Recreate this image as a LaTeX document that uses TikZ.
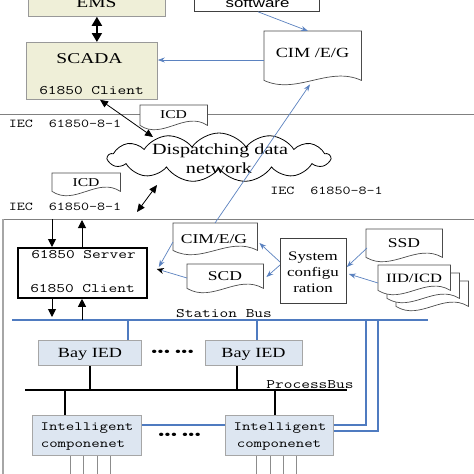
\documentclass[tikz,border=0pt]{standalone}
\usepackage{fontspec}
\setmainfont{Liberation Serif}
\newfontfamily\sansf{Liberation Sans}
\usetikzlibrary{shapes.symbols,arrows.meta,calc}
\newcommand\sx[1]{\scalebox{1.3}[1]{#1}}
\newcommand\fs[1]{\fontsize{#1}{#1}\selectfont}
\definecolor{busblue}{HTML}{4F7BC0}
\definecolor{arrblue}{HTML}{5B82C0}
\definecolor{ivory}{HTML}{EFEFD8}
\definecolor{bayfill}{HTML}{DDE6F1}
\newcommand\mydoc[1]{%
  \draw[docline] (#1.south west) -- (#1.north west) -- (#1.north east) -- (#1.south east)
    .. controls ($(#1.south west)!0.667!(#1.south east)+(0,-15)$) and ($(#1.south west)!0.333!(#1.south east)+(0,15)$) .. (#1.south west) -- cycle;}
\begin{document}
\begin{tikzpicture}[x=1pt,y=-1pt,
  ivbox/.style={draw=black!40, fill=ivory, line width=0.8pt, inner sep=0, anchor=north west},
  blbox/.style={draw=black!35, fill=bayfill, line width=0.8pt, inner sep=0, anchor=north west},
  wbox/.style={draw=black!75, fill=white, line width=0.8pt, inner sep=0, anchor=north west},
  srvbox/.style={draw=black, fill=white, line width=1.8pt, inner sep=0, anchor=north west},
  docnode/.style={inner sep=0, anchor=north west},
  docline/.style={draw=black!70, fill=white, line width=0.7pt},
  txt/.style={inner sep=0, anchor=base},
  sep/.style={draw=black!50, line width=1pt},
  bbus/.style={draw=busblue, line width=1.3pt},
  pbus/.style={draw=black, line width=2.6pt},
  lead/.style={draw=black!45, line width=0.7pt},
  barr/.style={draw=arrblue, line width=0.7pt, -{Stealth[length=7pt,width=5pt]}},
  karr/.style={draw=black, line width=0.8pt, {Triangle[length=8pt,width=7pt]}-{Triangle[length=8pt,width=7pt]}},
  bigarr/.style={draw=black, line width=2pt, {Triangle[length=9pt,width=10pt]}-{Triangle[length=9pt,width=10pt]}},
  sarr/.style={draw=black, line width=1pt, -{Triangle[length=8pt,width=8pt]}},
]
\useasboundingbox (0,0) rectangle (474,474);
\clip (0,0) rectangle (474,474);
\fill[white] (0,0) rectangle (474,474);

% separators
\coordinate (l1a) at (0,114);
\coordinate (l1b) at (476,114);
\draw[sep] (l1a) -- (l1b);
\coordinate (sbtl) at (3,219);
\coordinate (sbtr) at (476,219);
\coordinate (sbbl) at (3,478);
\draw[sep] (sbtl) -- (sbtr);
\draw[draw=black!35, line width=2.5pt] (sbtl) -- (sbbl);

% top level
\node[ivbox, minimum width=137pt, minimum height=36pt] (ems) at (28,-20) {};
\node[txt, font=\fs{15}] (emst) at (96.5,7) {\sx{EMS}};
\node[ivbox, minimum width=131pt, minimum height=57pt] (scada) at (26,42) {};
\node[txt, font=\fs{15}] (scadat) at (89.5,63) {\sx{SCADA}};
\node[txt, font=\fs{13}\ttfamily] (scadac) at (91.5,94) {\sx{61850 Client}};
\node[wbox, minimum width=125pt, minimum height=31pt] (soft) at (194,-20) {};
\node[txt, font=\fs{13}\sansf] (softt) at (257.5,7) {\sx{software}};

\node[docnode, minimum width=97pt, minimum height=49pt] (cimu) at (264,31) {};
\mydoc{cimu}
\node[txt, font=\fs{14}] (cimut) at (312.5,57) {\sx{CIM /E/G}};

\draw[bigarr] (ems.south) -- (ems.south |- scada.north);
\draw[barr] ($(soft.south west)+(64,0)$) -- ($(cimu.north west)+(44,0)$);
\draw[barr] ($(cimu.north west)+(0,29)$) coordinate (c1) -- (c1 -| scada.east);

% ICD 1
\node[docnode, minimum width=67pt, minimum height=20pt] (icd1) at (140,105) {};
\mydoc{icd1}
\node[txt, font=\fs{12}] (icd1t) at (173.5,118) {\sx{ICD}};
\node[txt, font=\fs{12}\ttfamily] (iec1) at (65,127) {\sx{IEC\ \ 61850-8-1}};

% cloud
\node[cloud, draw=black, fill=white, line width=0.8pt, cloud puffs=13, cloud puff arc=110,
      cloud ignores aspect, minimum width=222pt, minimum height=49pt, inner sep=0] (cloud) at (219,157.5) {};
\node[txt, font=\fs{15.5}] (cl1) at (220,154) {\sx{Dispatching data}};
\node[txt, font=\fs{15.5}] (cl2) at (219,173) {\sx{network}};
\draw[karr] ($(scada.south west)+(74,0)$) -- ($(cloud.center)+(-66,-20.5)$);

% ICD 2
\node[docnode, minimum width=68pt, minimum height=18pt] (icd2) at (52,173) {};
\mydoc{icd2}
\node[txt, font=\fs{12}] (icd2t) at (86,186) {\sx{ICD}};
\node[txt, font=\fs{12}\ttfamily] (iec2) at (65,210) {\sx{IEC\ \ 61850-8-1}};
\node[txt, font=\fs{12}\ttfamily] (iec3) at (326.5,194) {\sx{IEC\ \ 61850-8-1}};
\coordinate (k2) at (137,212);
\draw[karr] (k2) -- ($(cloud.center)+(-62,27.5)$);

% station level
\node[srvbox, minimum width=129pt, minimum height=50pt] (server) at (17,247) {};
\node[txt, font=\fs{13}\ttfamily] (servt) at (83.5,258) {\sx{61850 Server}};
\node[txt, font=\fs{13}\ttfamily] (servc) at (82.5,292) {\sx{61850 Client}};

\node[docnode, minimum width=84pt, minimum height=27pt] (ciml) at (173,223) {};
\mydoc{ciml}
\node[txt, font=\fs{13.5}] (cimlt) at (214,243) {\sx{CIM/E/G}};
\node[docnode, minimum width=76pt, minimum height=24pt] (scd) at (187,264) {};
\mydoc{scd}
\node[txt, font=\fs{13.5}] (scdt) at (225,280) {\sx{SCD}};

\node[wbox, minimum width=66pt, minimum height=65pt] (sys) at (280,238) {};
\node[txt, font=\fs{13}] (sys1) at (313,260) {\sx{System}};
\node[txt, font=\fs{13}] (sys2) at (313,276) {\sx{configu}};
\node[txt, font=\fs{13}] (sys3) at (313,292) {\sx{ration}};

\node[docnode, minimum width=76pt, minimum height=28pt] (ssd) at (366,229) {};
\mydoc{ssd}
\node[txt, font=\fs{13.5}] (ssdt) at (404,247) {\sx{SSD}};
\node[docnode, minimum width=72pt, minimum height=25pt] (iidb2) at (396,281) {};
\mydoc{iidb2}
\node[docnode, minimum width=72pt, minimum height=25pt] (iidb1) at (387,273) {};
\mydoc{iidb1}
\node[docnode, minimum width=72pt, minimum height=25pt] (iid) at (378,265) {};
\mydoc{iid}
\node[txt, font=\fs{12.7}] (iidt) at (414,282) {\sx{IID/ICD}};

% long blue line over cloud
\draw[barr] ($(ciml.north west)+(42,0)$) -- ($(cimu.south west)+(46,4)$);
\draw[barr] ($(ciml.north west)+(0,19)$) -- ($(server.north east)+(11,20)$);
\draw[draw=arrblue, line width=0.7pt, -{Stealth[length=7pt,width=6pt,black]}] ($(scd.north west)+(0,14)$) -- ($(server.north east)+(9,22)$);
\draw[barr] ($(sys.north west)+(0,24)$) -- ($(ciml.north east)+(2,20)$);
\draw[barr] ($(sys.north west)+(0,27)$) -- ($(scd.north east)+(3,13)$);
\draw[barr] ($(ssd.north west)+(1,19)$) -- ($(sys.north east)+(0,29)$);
\draw[barr] ($(iid.north west)+(0,18)$) -- ($(sys.north east)+(2,36)$);

% station bus
\coordinate (bus1) at (12,320);
\coordinate (bus2) at (428,320);
\draw[bbus] (bus1) -- (bus2);
\node[txt, font=\fs{13}\ttfamily] (sbus) at (224,317) {\sx{Station Bus}};

% server arrows
\coordinate (sa) at ($(server.north west)+(35,0)$);
\coordinate (sb) at ($(server.north west)+(65,0)$);
\coordinate (sc) at ($(server.south west)+(35,0)$);
\coordinate (sd) at ($(server.south west)+(65,0)$);
\draw[sarr] (sa |- sbtl) -- (sa);
\draw[sarr] (sb) -- ($(sb |- sbtl)+(0,1)$);
\draw[sarr] (sc) -- ($(sc |- bus1)+(0,-3)$);
\draw[sarr] (sd |- bus1) -- (sd);

% bay level
\node[blbox, minimum width=103pt, minimum height=25pt] (bay1) at (38,340) {};
\node[txt, font=\fs{14}] (bay1t) at (90,357) {\sx{Bay IED}};
\node[blbox, minimum width=97pt, minimum height=25pt] (bay2) at (205,340) {};
\node[txt, font=\fs{14}] (bay2t) at (253.5,357) {\sx{Bay IED}};
\node[txt, font=\fs{14}] (dots1) at (172.5,356) {\sx{\textbullet\textbullet\textbullet\ \textbullet\textbullet\textbullet}};
\draw[bbus] ($(bay1.north west)+(90,0)$) coordinate (b1t) -- (b1t |- bus1);
\draw[bbus] ($(bay2.north west)+(52,0)$) coordinate (b2t) -- (b2t |- bus1);

% process bus
\coordinate (pb1) at (25,390);
\coordinate (pb2) at (347,390);
\draw[pbus] (pb1) -- (pb2);
\node[txt, font=\fs{13}\ttfamily] (pbt) at (310,388) {\sx{ProcessBus}};

\node[blbox, minimum width=109pt, minimum height=40pt] (int1) at (32,415) {};
\node[txt, font=\fs{12.6}\ttfamily] (int1a) at (87,430) {\sx{Intelligent}};
\node[txt, font=\fs{12.6}\ttfamily] (int1b) at (83,447) {\sx{componenet}};
\node[blbox, minimum width=108pt, minimum height=40pt] (int2) at (225,415) {};
\node[txt, font=\fs{12.6}\ttfamily] (int2a) at (280,430) {\sx{Intelligent}};
\node[txt, font=\fs{12.6}\ttfamily] (int2b) at (279,447) {\sx{componenet}};
\node[txt, font=\fs{14}] (dots2) at (179.5,439) {\sx{\textbullet\textbullet\textbullet\ \textbullet\textbullet\textbullet}};

\draw[draw=black, line width=2.3pt] ($(bay1.south west)+(52,0)$) coordinate (p1) -- (p1 |- pb1);
\draw[draw=black, line width=2.3pt] ($(bay2.south west)+(32,0)$) coordinate (p2) -- (p2 |- pb1);
\draw[draw=black, line width=2.3pt] ($(int1.north west)+(33,0)$) coordinate (p3) -- (p3 |- pb1);
\draw[draw=black, line width=2.3pt] ($(int2.north west)+(50,0)$) coordinate (p4) -- (p4 |- pb1);

\draw[bbus] ($(int1.north east)+(0,10)$) -- ($(int2.north west)+(0,10)$);
\draw[bbus] ($(int2.north east)+(0,10)$) -| ($(bus1)+(354,0)$);
\draw[bbus] ($(int2.north east)+(0,16)$) -| ($(bus1)+(366,0)$);

% leads
\foreach \dx in {38,51,65,78} {
  \draw[lead] ($(int1.south west)+(\dx,0)$) -- ++(0,25);
}
\foreach \dx in {31,45,58,71} {
  \draw[lead] ($(int2.south west)+(\dx,0)$) -- ++(0,25);
}
\end{tikzpicture}
\end{document}
